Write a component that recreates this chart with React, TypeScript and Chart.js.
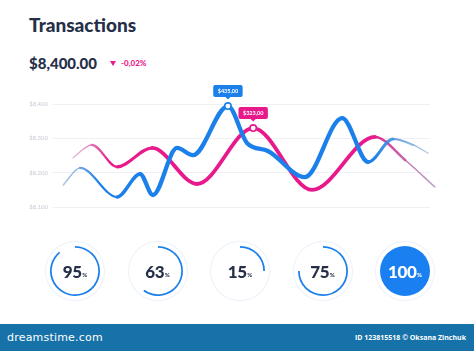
import React, { useEffect, useRef } from "react";
import { Chart, registerables } from "chart.js";
Chart.register(...registerables);

// ---- data ----
const blueX = [2.7, 7.2, 17.0, 23.1, 26.5, 32.9, 37.1, 46.4, 51.5, 57.0, 66.8, 76.7, 83.6, 90.2, 95.5, 99.5];
const blueY = [8164, 8214, 8129, 8196, 8135, 8272, 8251, 8394, 8286, 8263, 8187, 8359, 8231, 8298, 8281, 8257];
const pinkX = [5.3, 10.3, 17.0, 26.3, 38.2, 53.1, 68.7, 85.4, 93.4, 101.3];
const pinkY = [8243, 8281, 8217, 8272, 8167, 8330, 8150, 8304, 8237, 8158];
const yTicks = [8100, 8200, 8300, 8400];
const tipLabels = ["$435,00", "$323,00"];
const tipIndex = [7, 5];
const gaugeLabels = [95, 63, 15, 75, 100];
const gaugeArcs = [89, 60, 25, 75, 100];

const BLUE = "#1b80ea";
const PINK = "#e8198b";
const NAVY = "#262f48";
const FONT = "Lato, 'Open Sans', sans-serif";

const blueWidths = [1.4, 2.2, 3.4, 4.3, 4.3, 4.3, 4.3, 4.3, 4.3, 4.3, 4.3, 4.2, 3, 2, 1.3];
const pinkWidths = [1.3, 2.2, 3.1, 3.8, 3.8, 3.8, 3.8, 2.5, 1.4];

function grad(chart: any, xs: number[], color: string, c0: string, c1: string, a: number, b: number) {
  const sx = chart.scales && chart.scales.x;
  if (!sx || !chart.chartArea) return color;
  const x0 = sx.getPixelForValue(xs[0]);
  const x1 = sx.getPixelForValue(xs[xs.length - 1]);
  const g = chart.ctx.createLinearGradient(x0, 0, x1, 0);
  g.addColorStop(0, c0);
  g.addColorStop(a, color);
  g.addColorStop(b, color);
  g.addColorStop(1, c1);
  return g;
}

const tipPlugin = {
  id: "tips",
  afterDatasetsDraw(chart: any) {
    const c = chart.ctx;
    const colors = [BLUE, PINK];
    [0, 1].forEach((di) => {
      const el = chart.getDatasetMeta(di).data[tipIndex[di]];
      if (!el) return;
      const { x, y } = el;
      c.save();
      c.font = `bold 5.5px ${FONT}`;
      const tw = c.measureText(tipLabels[di]).width;
      const w = tw + 9;
      const h = 12;
      const bottom = y - 9;
      const left = x - w / 2;
      c.fillStyle = colors[di];
      c.beginPath();
      (c as any).roundRect(left, bottom - h, w, h, 2);
      c.fill();
      c.beginPath();
      c.moveTo(x - 2.5, bottom);
      c.lineTo(x + 2.5, bottom);
      c.lineTo(x, bottom + 2.5);
      c.closePath();
      c.fill();
      c.fillStyle = "#fff";
      c.textAlign = "center";
      c.textBaseline = "middle";
      c.fillText(tipLabels[di], x, bottom - h / 2 + 0.5);
      c.beginPath();
      c.arc(x, y, 3.2, 0, Math.PI * 2);
      c.fillStyle = "#fff";
      c.fill();
      c.lineWidth = 1.6;
      c.strokeStyle = colors[di];
      c.stroke();
      c.restore();
    });
  },
};

function LineChart() {
  const ref = useRef<HTMLCanvasElement>(null);
  useEffect(() => {
    const chart = new Chart(ref.current!, {
      type: "line",
      data: {
        datasets: [
          {
            data: blueX.map((x, i) => ({ x, y: blueY[i] })),
            borderColor: (ctx: any) =>
              grad(ctx.chart, blueX, BLUE, "rgba(110,150,205,0.55)", "rgba(120,160,205,0.55)", 0.1, 0.85),
            borderWidth: 4,
            pointRadius: 0,
            cubicInterpolationMode: "monotone",
            borderCapStyle: "round",
            clip: false as any,
            segment: { borderWidth: (s: any) => blueWidths[s.p0DataIndex] },
          } as any,
          {
            data: pinkX.map((x, i) => ({ x, y: pinkY[i] })),
            borderColor: (ctx: any) =>
              grad(ctx.chart, pinkX, PINK, "rgba(200,140,185,0.55)", "rgba(140,100,160,0.6)", 0.1, 0.82),
            borderWidth: 3.6,
            pointRadius: 0,
            cubicInterpolationMode: "monotone",
            borderCapStyle: "round",
            clip: false as any,
            segment: { borderWidth: (s: any) => pinkWidths[s.p0DataIndex] },
          } as any,
        ],
      },
      options: {
        animation: false,
        responsive: false,
        maintainAspectRatio: false,
        layout: { padding: { left: 20, right: 44, top: 24, bottom: 9 } },
        plugins: { legend: { display: false }, tooltip: { enabled: false } },
        scales: {
          x: { type: "linear", min: 0, max: 100, display: false },
          y: {
            min: yTicks[0],
            max: yTicks[yTicks.length - 1],
            afterBuildTicks: (s: any) => {
              s.ticks = yTicks.map((v) => ({ value: v }));
            },
            afterFit: (s: any) => {
              s.width = 33;
            },
            border: { display: false },
            grid: { color: "#eef0f4", drawTicks: false, lineWidth: 1 },
            ticks: {
              padding: 5,
              color: "#c6cad2",
              font: { size: 6, family: FONT },
              callback: (v: any) => "$" + Number(v).toLocaleString("en-US"),
            },
          },
        },
      },
      plugins: [tipPlugin],
    });
    return () => chart.destroy();
  }, []);
  return (
    <canvas
      ref={ref}
      width={474}
      height={136}
      style={{ position: "absolute", left: 0, top: 80, width: 474, height: 136 }}
    />
  );
}

function Gauge({ label, arc }: { label: number; arc: number }) {
  const ref = useRef<HTMLCanvasElement>(null);
  const full = arc >= 100;
  useEffect(() => {
    const chart = new Chart(ref.current!, {
      type: "doughnut",
      data: {
        datasets: [
          {
            data: full ? [100] : [arc, 100 - arc],
            backgroundColor: full ? ["#1a80f2"] : [BLUE, "rgba(0,0,0,0)"],
            borderWidth: 0,
          },
        ],
      },
      options: {
        animation: false,
        responsive: false,
        cutout: full ? 0 : "93%",
        plugins: { legend: { display: false }, tooltip: { enabled: false } },
        events: [],
      },
    });
    return () => chart.destroy();
  }, []);
  return (
    <div
      style={{
        position: "relative",
        width: 58,
        height: 58,
        borderRadius: "50%",
        background: "#fff",
        boxShadow: "0 0 0 1px #edf3fa, 0 0 2px rgba(190,210,230,0.3)",
        flex: "0 0 58px",
      }}
    >
      <canvas
        ref={ref}
        width={50}
        height={50}
        style={{ position: "absolute", left: 4, top: 4, width: 50, height: 50 }}
      />
      <div
        style={{
          position: "absolute",
          inset: 0,
          display: "flex",
          alignItems: "center",
          justifyContent: "center",
          fontFamily: FONT,
          fontWeight: 900,
          color: full ? "#fff" : NAVY,
          lineHeight: 1,
        }}
      >
        <span style={{ fontSize: 17, letterSpacing: -0.3 }}>{label}</span>
        <span style={{ fontSize: 6, alignSelf: "center", marginTop: 8, marginLeft: 0.5 }}>%</span>
      </div>
    </div>
  );
}

export default function App() {
  return (
    <div
      style={{
        position: "absolute",
        left: 0,
        top: 0,
        width: 474,
        height: 351,
        background: "#fff",
        overflow: "hidden",
        fontFamily: FONT,
      }}
    >
      <div
        style={{
          position: "absolute",
          left: 29,
          top: 14,
          fontSize: 19,
          fontWeight: 900,
          color: NAVY,
          lineHeight: "22px",
        }}
      >
        Transactions
      </div>
      <div
        style={{
          position: "absolute",
          left: 29,
          top: 54,
          fontSize: 15,
          fontWeight: 900,
          color: NAVY,
          lineHeight: "18px",
          display: "flex",
          alignItems: "center",
        }}
      >
        <span>$8,400.00</span>
        <span
          style={{
            display: "inline-block",
            width: 0,
            height: 0,
            borderLeft: "3.5px solid transparent",
            borderRight: "3.5px solid transparent",
            borderTop: "5px solid " + PINK,
            marginLeft: 13,
            marginRight: 5,
          }}
        />
        <span style={{ fontSize: 8, color: PINK, fontWeight: 900 }}>-0,02%</span>
      </div>
      <LineChart />
      <div
        style={{
          position: "absolute",
          left: 46,
          top: 242,
          display: "flex",
          gap: 24.5,
        }}
      >
        {gaugeLabels.map((l, i) => (
          <Gauge key={i} label={l} arc={gaugeArcs[i]} />
        ))}
      </div>
      <div
        style={{
          position: "absolute",
          left: 0,
          top: 324,
          width: 474,
          height: 27,
          background: "#1672a9",
          color: "#fff",
        }}
      >
        <span
          style={{
            position: "absolute",
            left: 7,
            top: 7,
            fontSize: 11,
            fontFamily: "'DejaVu Sans', sans-serif",
            letterSpacing: 0.2,
          }}
        >
          dreamstime.com
        </span>
        <span
          style={{
            position: "absolute",
            right: 8,
            top: 9,
            fontSize: 7,
            fontWeight: 700,
            fontFamily: "'Open Sans', sans-serif",
          }}
        >
          ID 123815518 © Oksana Zinchuk
        </span>
      </div>
    </div>
  );
}
